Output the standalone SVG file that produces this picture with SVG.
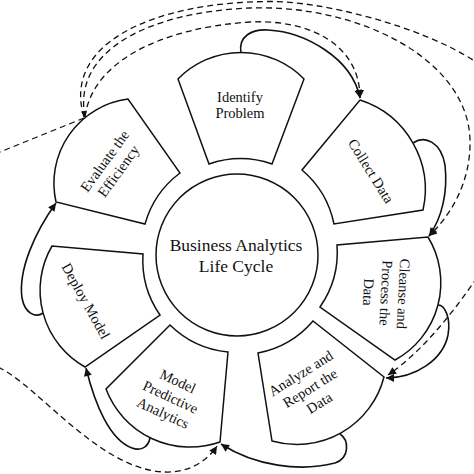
<svg xmlns="http://www.w3.org/2000/svg" width="474" height="474" viewBox="0 0 474 474">
<style>
.seg{fill:#fff;stroke:#111;stroke-width:1.5;stroke-linejoin:miter}
.hub{fill:#fff;stroke:#111;stroke-width:1.5}
.lbl{font-family:"Liberation Serif","Times New Roman",serif;font-size:14.5px;fill:#111;text-anchor:middle}
.title{font-size:17.5px}
.solid{fill:none;stroke:#111;stroke-width:1.6;marker-end:url(#ah)}
.dash{fill:none;stroke:#111;stroke-width:1.3;stroke-dasharray:6 4;marker-end:url(#ah)}
</style>
<defs>
<marker id="ah" viewBox="0 0 10 10" refX="10" refY="5" markerWidth="11" markerHeight="8" markerUnits="userSpaceOnUse" orient="auto"><path d="M0,0 L10,5 L0,10 z" fill="#111"/></marker>
<marker id="ahs" viewBox="0 0 10 10" refX="10" refY="5" markerWidth="7" markerHeight="6" markerUnits="userSpaceOnUse" orient="auto-start-reverse"><path d="M0,0 L10,5 L0,10 z" fill="#111"/></marker>
</defs>
<rect width="474" height="474" fill="#fff"/>

<g id="hub">
<circle class="hub" cx="237" cy="255" r="81"/>
<text class="lbl title" x="236" y="251">Business Analytics</text>
<text class="lbl title" x="236" y="272">Life Cycle</text>
</g>

<g id="identify">
<path class="seg" d="M178 79 A88 88 0 0 1 304 79 L272 164 A96 96 0 0 0 209 164 Z"/>
<text class="lbl" x="240" y="101.5">Identify</text>
<text class="lbl" x="240" y="117.5">Problem</text>
</g>

<g id="collect">
<path class="seg" d="M360 100 A94 94 0 0 1 423 210 L334 224 A96 96 0 0 0 302 170 Z"/>
<text class="lbl" transform="translate(371,171) rotate(58)" x="0" y="5">Collect Data</text>
</g>

<g id="cleanse">
<path class="seg" d="M428 237 A88 88 0 0 1 395 360 L320 307 A96 96 0 0 0 337 245 Z"/>
<text class="lbl" transform="translate(386,293) rotate(93)"><tspan x="0" y="-12.5">Cleanse and</tspan><tspan x="0" y="5">Process the</tspan><tspan x="0" y="22.5">Data</tspan></text>
</g>

<g id="analyze">
<path class="seg" d="M384 377 A90 90 0 0 1 272 441 L258 353 A96 96 0 0 0 313 321 Z"/>
<text class="lbl" transform="translate(310,388) rotate(-32)"><tspan x="0" y="-12.5">Analyze and</tspan><tspan x="0" y="5">Report the</tspan><tspan x="0" y="22.5">Data</tspan></text>
</g>

<g id="model">
<path class="seg" d="M220 442 A90 90 0 0 1 106 389 L170 325 A96 96 0 0 0 228 352 Z"/>
<text class="lbl" transform="translate(170.5,397) rotate(25)"><tspan x="0" y="-12.5">Model</tspan><tspan x="0" y="5">Predictive</tspan><tspan x="0" y="22.5">Analytics</tspan></text>
</g>

<g id="deploy">
<path class="seg" d="M85 367 A88 88 0 0 1 52 246 L143 254 A96 96 0 0 0 160 315 Z"/>
<text class="lbl" transform="translate(86,301) rotate(61)" x="0" y="5">Deploy Model</text>
</g>

<g id="evaluate">
<path class="seg" d="M56 202 A85 85 0 0 1 128 99 L180 173 A96 96 0 0 0 145 224 Z"/>
<text class="lbl" transform="translate(111.5,166) rotate(-54)"><tspan x="0" y="-3.5">Evaluate the</tspan><tspan x="0" y="13.5">Efficiency</tspan></text>
</g>

<g id="connectors">
<path class="solid" d="M241 53 C238 36 252 29 268 30 C305 32 352 58 360 98"/>
<path class="solid" d="M413 143 C425 135 441 142 445 165 C448 192 442 218 429 236"/>
<path class="solid" d="M438 305 C445 305 451 318 448 335 C443 360 415 378 386 378"/>
<path class="solid" d="M340 434 C349 440 350 458 335 463 C300 472 255 466 221 444"/>
<path class="solid" d="M150 438 C148 448 140 451 132 448 C110 440 95 405 86 368"/>
<path class="solid" d="M43 313 C36 318 25 314 22 298 C18 270 35 232 56 203"/>
<path class="dash" d="M85 117 C92 62 160 28 250 22 C310 19 360 45 360 98"/>
<path class="dash" style="marker-start:url(#ahs)" d="M85 117 C72 50 150 12 250 8 C360 4 468 60 470 140 C471 185 448 218 429 236"/>
<path class="dash" d="M84 117 C62 45 150 2 270 1.5 C320 1 420 25 476 62 C520 110 520 240 474 282 C458 305 425 350 388 375"/>
<path class="dash" d="M84 118 L0 152 C-40 175 -40 350 0 368 C40 388 100 470 165 472 C190 473 208 460 217 446"/>
</g>
</svg>
